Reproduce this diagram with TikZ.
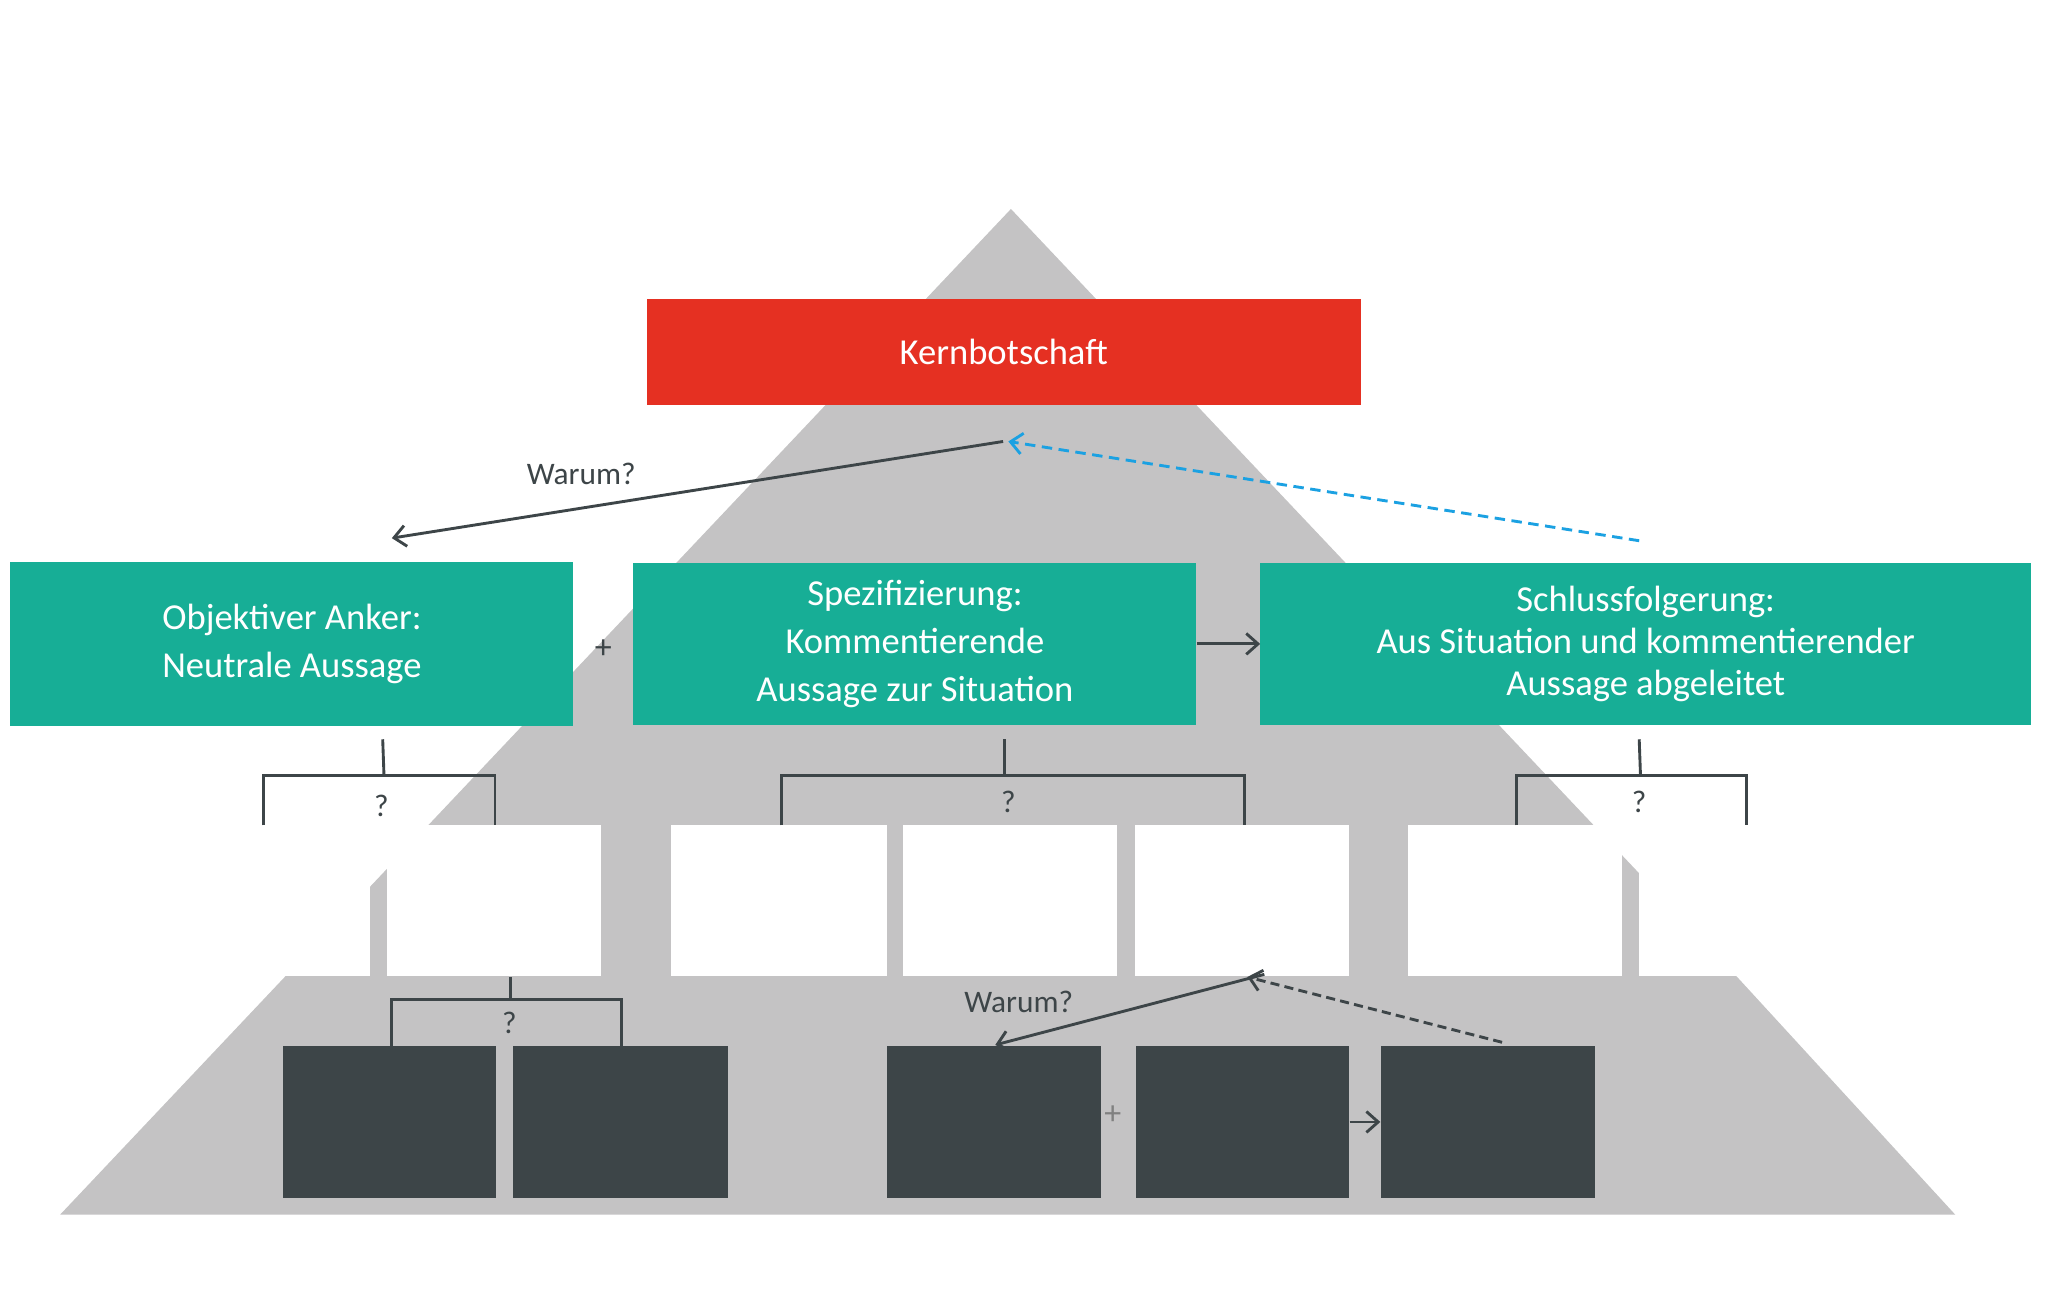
\documentclass[tikz,border=0pt]{standalone}
\usepackage{fontspec}
\setmainfont{Carlito}
\usetikzlibrary{arrows.meta}
\definecolor{teal1}{HTML}{17AE96}
\definecolor{red1}{HTML}{E53022}
\definecolor{dark}{HTML}{3D4548}
\definecolor{pyr}{HTML}{C4C3C4}
\definecolor{blue1}{HTML}{1BA1E2}
\begin{document}
\begin{tikzpicture}[x=1pt,y=-1pt,
  tbox/.style={fill=teal1,draw=none,text=white,font=\fontsize{28}{37}\selectfont,align=center},
  dbox/.style={fill=dark,draw=none},
  wbox/.style={fill=white,draw=none},
  ln/.style={draw=dark,line width=2.2pt},
  arr/.style={ln,-{Straight Barb[length=9pt,width=16pt]}},
  q/.style={text=dark,font=\fontsize{24}{24}\selectfont}]
\useasboundingbox[fill=white] (0,0) rectangle (1568,992);
\fill[pyr] (774,160) -- (1330,748) -- (1497,930) -- (46,930) -- (218,748) -- cycle;
% white boxes
\foreach \a/\b in {133/283,296/460,514/679,691/855,869/1033,1078/1242,1255/1420}
  \fill[white] (\a,632) rectangle (\b,747);
% red
\node[fill=red1,text=white,minimum width=547pt,minimum height=81pt,font=\fontsize{28}{30}\selectfont] (k) at (768.5,269.5) {Kernbotschaft};
% teal
\node[tbox,minimum width=431pt,minimum height=126pt] (a) at (223.5,493) {Objektiver Anker:\\Neutrale Aussage};
\node[tbox,minimum width=431pt,minimum height=124pt] (b) at (700.5,493) {Spezifizierung:\\Kommentierende\\Aussage zur Situation};
\node[tbox,minimum width=590pt,minimum height=124pt,font=\fontsize{28}{32}\selectfont] (c) at (1260,493) {Schlussfolgerung:\\Aus Situation und kommentierender\\Aussage abgeleitet};
\coordinate (k1) at (768,338); \coordinate (wa) at (300,412);
\coordinate (k2) at (772,338); \coordinate (cs) at (1255,414);
\draw[arr] (k1) -- (wa);
\node[q] (w1) at (445,363) {Warum?};
\draw[draw=blue1,line width=2.2pt,dash pattern=on 8pt off 5pt,-{Straight Barb[length=9pt,width=16pt]}] (cs) -- (k2);
\node[q,font=\fontsize{26}{26}\selectfont] (p1) at (462,497) {+};
\draw[arr] (b.east) -- (c.west);
% brackets
\draw[ln] (293,566) -- (294,594); \draw[ln] (202,632) -- (202,594) -- (379,594) -- (379,632);
\node[q] (q1) at (292,617) {?};
\draw[ln] (769,566) -- (769,594); \draw[ln] (598,632) -- (598,594) -- (953,594) -- (953,632);
\node[q] (q2) at (772,614) {?};
\draw[ln] (1255,566) -- (1256,594); \draw[ln] (1161,632) -- (1161,594) -- (1337,594) -- (1337,632);
\node[q] (q3) at (1255,614) {?};
\draw[ln] (391,748) -- (391,765); \draw[ln] (300,801) -- (300,765) -- (476,765) -- (476,801);
\node[q] (q4) at (390,783) {?};
% dark boxes
\foreach \n/\a/\b in {d1/217/380,d2/393/557,d3/679/843,d4/870/1033,d5/1057/1221}
  \node[dbox,minimum width={\b-\a},minimum height=116pt,inner sep=0pt] (\n) at ({(\a+\b)/2},859) {};
\node[q] (w2) at (780,767) {Warum?};
\coordinate (m1) at (968,746); \coordinate (m2) at (762,800);
\coordinate (m3) at (1150,798); \coordinate (m4) at (955,748);
\draw[arr] (m1) -- (m2);
\draw[ln,dash pattern=on 7pt off 4pt,-{Straight Barb[length=9pt,width=16pt]}] (m3) -- (m4);
\node[text=gray,font=\fontsize{26}{26}\selectfont] (p2) at (852,854) {+};
\draw[arr] (d4.east) -- (d5.west);
\end{tikzpicture}
\end{document}
